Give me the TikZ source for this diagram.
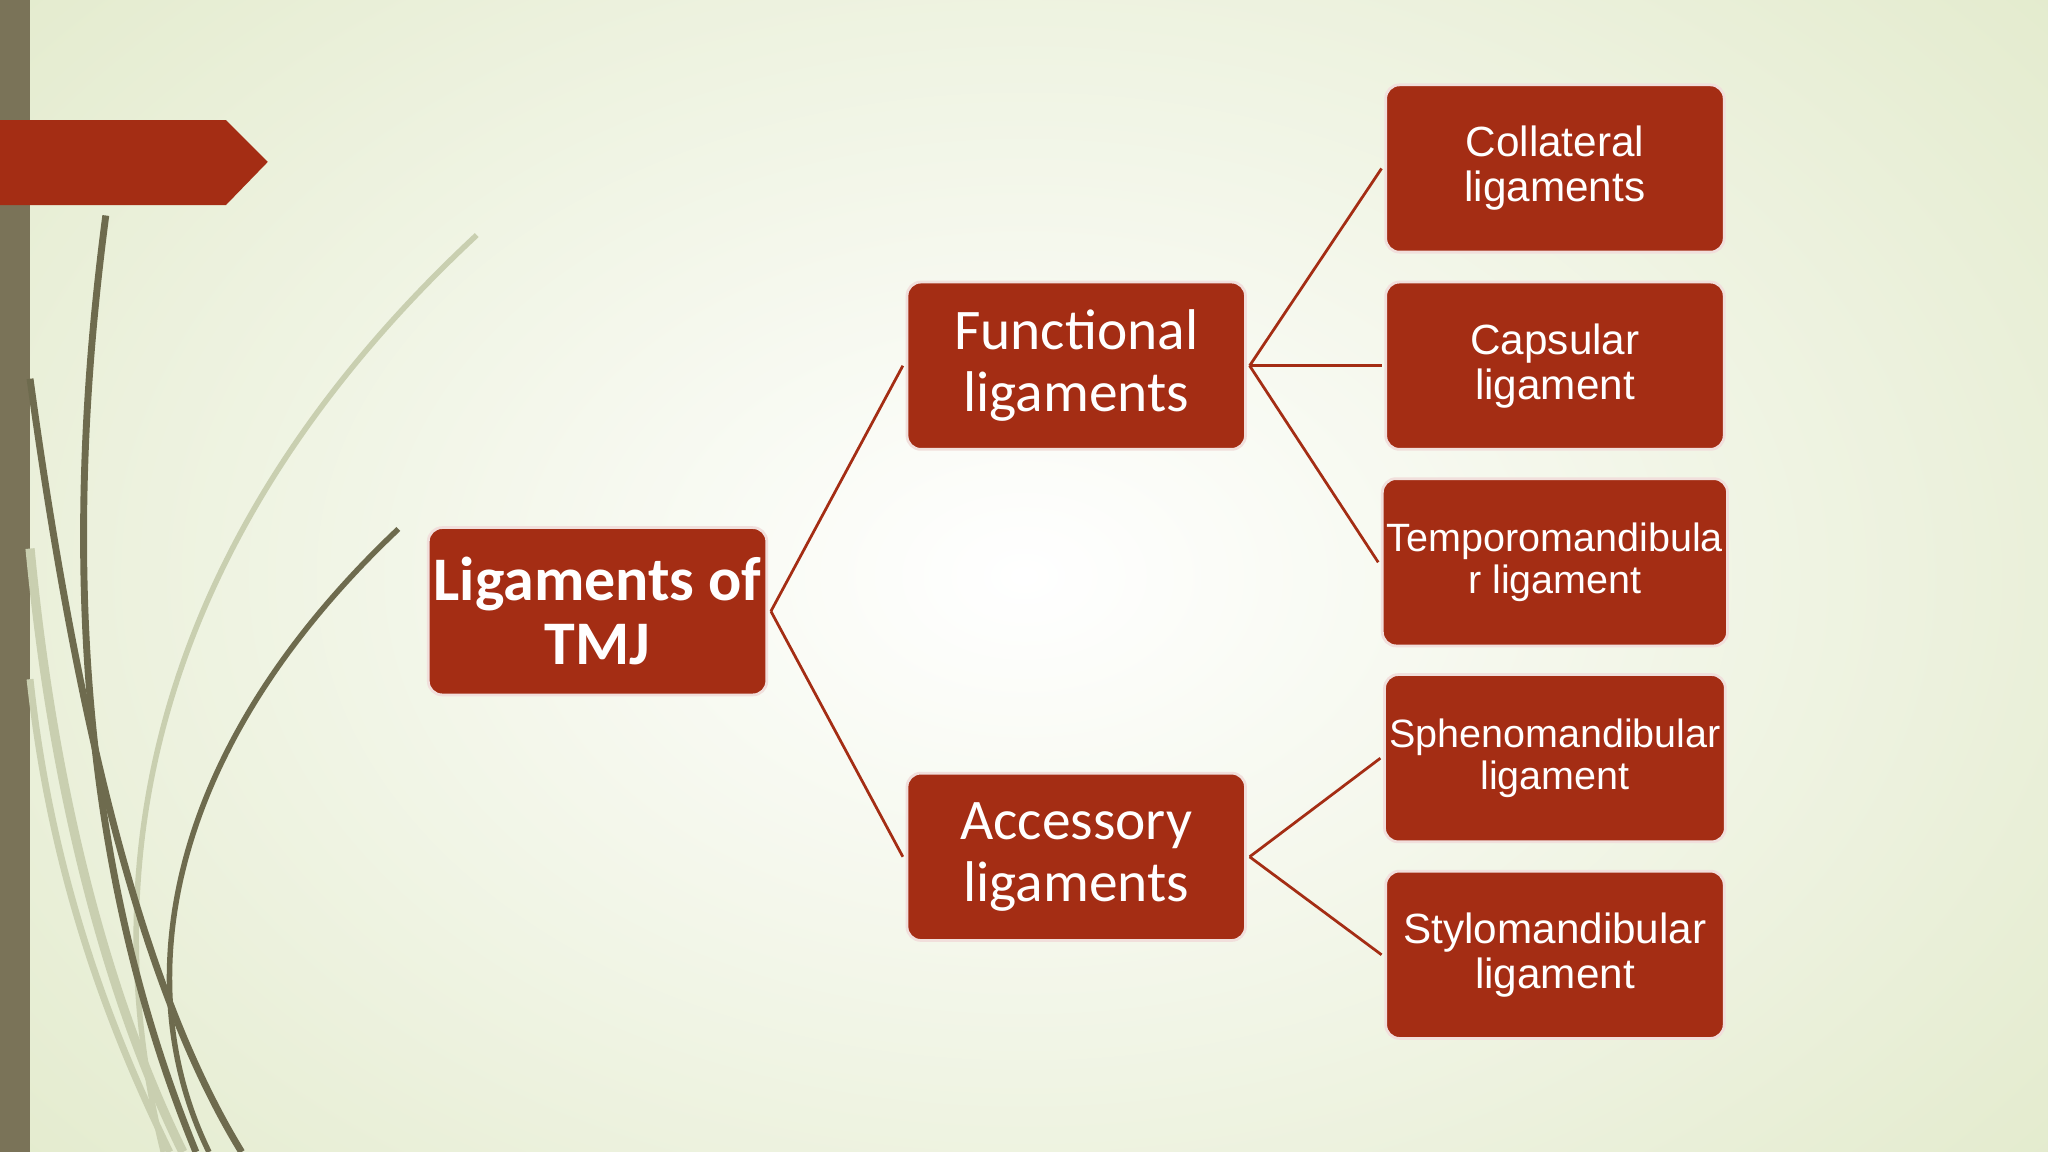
\documentclass[tikz,border=0pt]{standalone}
\usepackage{fontspec}
\setmainfont{Liberation Sans}
\newfontfamily\carlitofont{Carlito}
\begin{document}
\begin{tikzpicture}[x=0.01cm,y=-0.01cm]
\definecolor{boxred}{HTML}{A42D14}
\definecolor{bgout}{HTML}{E2EACB}
\definecolor{bar}{HTML}{7A7358}
\definecolor{leaf}{HTML}{6E6B4E}
\definecolor{leaflight}{HTML}{C9CFB0}
\tikzset{
 box/.style={draw=white!85!boxred, line width=0.6pt, fill=boxred, rounded corners=3pt,
   minimum width=2.59cm, minimum height=1.28cm, text=white, align=center, inner sep=1pt},
 mid/.style={box, font=\carlitofont\fontsize{12.5}{13.6}\selectfont},
 leafbox/.style={box, font=\fontsize{9.2}{9.8}\selectfont},
 link/.style={draw=boxred, line width=0.6pt}
}
\useasboundingbox (0,0) rectangle (1568,882);
\shade[inner color=white, outer color=bgout] (-300,-300) rectangle (1868,1182);
\path[clip] (0,0) rectangle (1568,882);
\fill[bar] (0,0) rectangle (23,882);
% decorative curves
\draw[leaflight, line width=1.2pt] (365,180) .. controls (150,380) and (60,620) .. (125,882);
\draw[leaflight, line width=2pt] (23,420) .. controls (40,600) and (80,760) .. (140,882);
\draw[leaf, line width=1.2pt] (305,405) .. controls (120,580) and (100,760) .. (160,882);
\draw[leaf, line width=1.5pt] (81,165) .. controls (50,400) and (55,650) .. (150,882);
\draw[leaf, line width=1.5pt] (23,290) .. controls (60,560) and (110,760) .. (185,882);
\draw[leaflight, line width=1.5pt] (23,520) .. controls (40,680) and (90,800) .. (130,882);
\fill[boxred] (0,92) -- (173,92) -- (205,124) -- (173,157) -- (0,157) -- cycle;
% nodes
\node[box, font=\carlitofont\bfseries\fontsize{13.5}{14}\selectfont] (root) at (457.5,468) {Ligaments of\\TMJ};
\node[mid] (func) at (824,280) {Functional\\ligaments};
\node[mid] (acc) at (824,656) {Accessory\\ligaments};
\node[leafbox] (col) at (1190.5,129) {Collateral\\ligaments};
\node[leafbox] (cap) at (1190.5,280) {Capsular\\ligament};
\node[leafbox, font=\fontsize{8.6}{9}\selectfont] (tem) at (1190.5,430.5) {Temporomandibula\\r ligament};
\node[leafbox, font=\fontsize{8.6}{9}\selectfont] (sph) at (1190.5,580.5) {Sphenomandibular\\ligament};
\node[leafbox] (sty) at (1190.5,731) {Stylomandibular\\ligament};
\coordinate (rootR) at ([xshift=0.6pt]root.east);
\coordinate (funcR) at ([xshift=0.6pt]func.east);
\coordinate (accR) at ([xshift=0.6pt]acc.east);
\draw[link] (rootR) -- ([xshift=-0.6pt]func.west);
\draw[link] (rootR) -- ([xshift=-0.6pt]acc.west);
\draw[link] (funcR) -- ([xshift=-0.6pt]col.west);
\draw[link] (funcR) -- ([xshift=-0.6pt]cap.west);
\draw[link] (funcR) -- ([xshift=-0.6pt]tem.west);
\draw[link] (accR) -- ([xshift=-0.6pt]sph.west);
\draw[link] (accR) -- ([xshift=-0.6pt]sty.west);
\end{tikzpicture}
\end{document}
